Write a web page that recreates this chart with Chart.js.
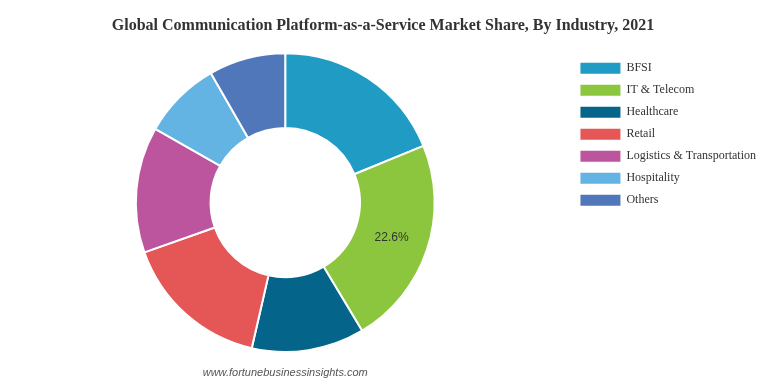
<!DOCTYPE html>
<html>
<head>
<meta charset="utf-8">
<script src="https://cdn.jsdelivr.net/npm/chart.js@4.4.0/dist/chart.umd.min.js"></script>
<style>
html,body{margin:0;padding:0;background:#fff;}
#wrap{width:770px;height:385px;}
</style>
</head>
<body>
<div id="wrap"><canvas id="c" width="770" height="385"></canvas></div>
<script>
const categories = ["BFSI", "IT & Telecom", "Healthcare", "Retail", "Logistics & Transportation", "Hospitality", "Others"];
const shares = [18.8, 22.6, 12.2, 16.0, 13.6, 8.5, 8.3];
const colors = ["#1f9bc4", "#8cc63f", "#05648a", "#e45756", "#bc559e", "#63b3e3", "#4f77b9"];
const labelledIndex = [1];
const titleText = "Global Communication Platform-as-a-Service Market Share, By Industry, 2021";
const sourceText = "www.fortunebusinessinsights.com";

const sliceLabels = {
  id: 'sliceLabels',
  afterDatasetsDraw(chart) {
    const ctx = chart.ctx;
    const meta = chart.getDatasetMeta(0);
    ctx.save();
    ctx.font = '12px "Liberation Sans", Arial, sans-serif';
    ctx.fillStyle = '#333';
    ctx.textAlign = 'center';
    ctx.textBaseline = 'middle';
    labelledIndex.forEach(i => {
      const p = meta.data[i].tooltipPosition();
      ctx.fillText(shares[i].toFixed(1) + '%', p.x, p.y);
    });
    ctx.restore();
  }
};
const sourceNote = {
  id: 'sourceNote',
  afterDraw(chart) {
    const ctx = chart.ctx;
    const a = chart.chartArea;
    ctx.save();
    ctx.font = 'italic 11px "Liberation Sans", Arial, sans-serif';
    ctx.fillStyle = '#555';
    ctx.textAlign = 'center';
    ctx.textBaseline = 'middle';
    ctx.fillText(sourceText, (a.left + a.right) / 2, 373);
    ctx.restore();
  }
};

const baseLabels = Chart.overrides.doughnut.plugins.legend.labels.generateLabels;

new Chart(document.getElementById('c'), {
  type: 'doughnut',
  data: {
    labels: categories,
    datasets: [{
      data: shares,
      backgroundColor: colors,
      borderColor: '#ffffff',
      borderWidth: 2
    }]
  },
  options: {
    responsive: false,
    animation: false,
    events: [],
    cutout: '50%',
    layout: { padding: { left: 0, right: 4, top: 0, bottom: 32 } },
    plugins: {
      title: {
        display: true,
        text: titleText,
        color: '#333',
        font: { family: '"Liberation Serif", "Times New Roman", serif', size: 16, weight: 'bold' },
        padding: { top: 16, bottom: 17 }
      },
      legend: {
        position: 'right',
        align: 'start',
        fullSize: false,
        labels: {
          boxWidth: 40,
          boxHeight: 11,
          padding: 10,
          color: '#333',
          font: { family: '"Liberation Serif", "Times New Roman", serif', size: 12 },
          generateLabels(chart) {
            return baseLabels(chart).map(l => Object.assign(l, { lineWidth: 0, strokeStyle: l.fillStyle }));
          }
        }
      },
      tooltip: { enabled: false }
    }
  },
  plugins: [sliceLabels, sourceNote]
});
</script>
</body>
</html>
